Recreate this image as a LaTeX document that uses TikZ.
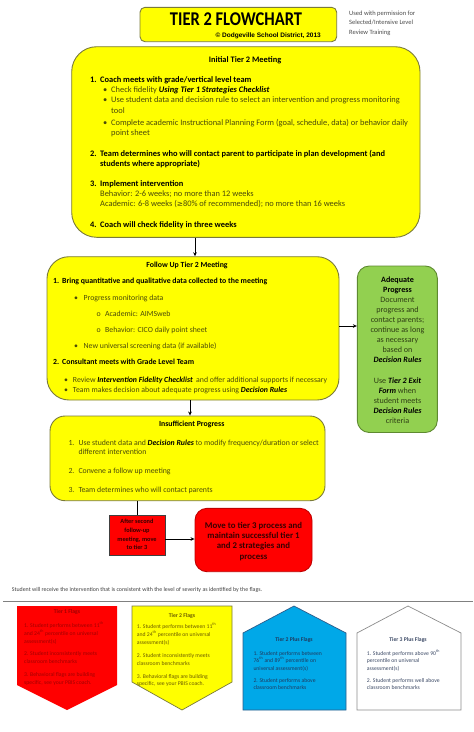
\documentclass[tikz,border=0pt]{standalone}
\usepackage{fontspec}
\setmainfont{Carlito}
\newfontfamily\arialf{Liberation Sans}
\newfontfamily\dejavu{DejaVu Sans}
\usetikzlibrary{arrows.meta}
\definecolor{ylw}{HTML}{FFFF00}
\definecolor{ylwborder}{HTML}{7A7A3A}
\definecolor{olivetxt}{HTML}{4A4A0A}
\definecolor{grn}{HTML}{92D050}
\definecolor{grnborder}{HTML}{5E8A30}
\definecolor{grntxt}{HTML}{2E3E14}
\definecolor{rd}{HTML}{FF0000}
\definecolor{rdborder}{HTML}{C00000}
\definecolor{rdtxt}{HTML}{380000}
\definecolor{blu}{HTML}{00A8E8}
\definecolor{bluborder}{HTML}{2E5C8A}
\definecolor{blutxt}{HTML}{1F3A5F}
\definecolor{whtborder}{HTML}{8C8C8C}
\definecolor{whttxt}{HTML}{3C4A66}
\definecolor{flagred}{HTML}{A00000}
\definecolor{flagylw}{HTML}{6B5B00}
\newcommand{\bk}[1]{\textbf{\color{black}#1}}
\newcommand{\tl}[4]{\node[txt] (#1) at (#2,#3) {#4};}
\newcommand{\tc}[4]{\node[txtc] (#1) at (#2,#3) {#4};}
\tikzset{
  txt/.style={anchor=base west, inner sep=0pt},
  txtc/.style={anchor=base, inner sep=0pt},
  ybox/.style={draw=ylwborder, fill=ylw, line width=0.9pt, inner sep=0pt},
  conn/.style={draw=black, line width=1pt},
  arr/.style={conn, -{Stealth[length=4pt,width=3.6pt]}},
}
\begin{document}
\begin{tikzpicture}[x=1pt,y=-1pt]
\fill[white] (0,0) rectangle (474,732);
\useasboundingbox (0,0) rectangle (474,732);

% ---------- title ----------
\node[ybox, rounded corners=5pt, minimum width=196.7pt, minimum height=34.4pt] (title) at (238.35,24.5) {};
\node[txtc, font=\fontsize{16.5}{18}\selectfont\bfseries] (titletxt) at (236,25.8) {\scalebox{1}[1.18]{TIER 2 FLOWCHART}};
\node[txt, anchor=base east, font=\arialf\fontsize{6.5}{7}\selectfont\bfseries] (copy) at (321,37) {© Dodgeville School District, 2013};
\begin{scope}[font=\fontsize{6.5}{7}\selectfont, text=black!70]
\tl{side1}{349}{15.5}{Used with permission for}
\tl{side2}{349}{24.5}{Selected/Intensive Level}
\tl{side3}{349}{34}{Review Training}
\end{scope}

% ---------- boxes ----------
\node[ybox, rounded corners=25pt, minimum width=348.3pt, minimum height=190.6pt] (init) at (245.85,142) {};
\node[ybox, rounded corners=22pt, minimum width=292pt, minimum height=143.3pt] (follow) at (193,328.35) {};
\node[ybox, rounded corners=15pt, minimum width=275pt, minimum height=84.7pt] (insuf) at (187.5,458.35) {};
\node[draw=grnborder, fill=grn, line width=0.9pt, rounded corners=12pt, minimum width=80pt, minimum height=166.5pt, inner sep=0pt] (adeq) at (397.3,349.25) {};
\node[draw=black!75, fill=rd, line width=0.8pt, minimum width=56pt, minimum height=40pt, inner sep=0pt] (after) at (137,535) {};
\node[draw=rdborder, fill=rd, line width=0.9pt, rounded corners=12pt, minimum width=117pt, minimum height=63.4pt, inner sep=0pt] (move) at (253.5,540) {};

% ---------- connectors ----------
\coordinate (ax1) at (195,0);
\coordinate (ax2) at (190,0);
\coordinate (ay3) at (0,326);
\coordinate (ax4) at (137,0);
\coordinate (ay5) at (0,539);
\draw[arr] (init.south -| ax1) -- (follow.north -| ax1);
\draw[arr] (follow.south -| ax2) -- (insuf.north -| ax2);
\draw[arr] (follow.east |- ay3) -- (adeq.west |- ay3);
\draw[conn] (insuf.south -| ax4) -- (after.north);
\draw[arr] (after.east |- ay5) -- (move.west |- ay5);

% ---------- initial meeting text ----------
\begin{scope}[font=\fontsize{8.4}{10}\selectfont, text=olivetxt]
\tc{i0}{245}{62}{\bk{Initial Tier 2 Meeting}}
\tl{i1n}{90}{82}{\bk{1.}} \tl{i1}{100}{82}{\bk{Coach meets with grade/vertical level team}}
\tl{i1a}{103}{92}{•} \tl{i1at}{111}{92}{Check fidelity \bk{\itshape Using Tier 1 Strategies Checklist}}
\tl{i1b}{103}{102}{•} \tl{i1bt}{111}{102}{Use student data and decision rule to select an intervention and progress monitoring}
\tl{i1bu}{111}{113}{tool}
\tl{i1c}{103}{125}{•} \tl{i1ct}{111}{125}{Complete academic Instructional Planning Form (goal, schedule, data) or behavior daily}
\tl{i1cu}{111}{135}{point sheet}
\tl{i2n}{90}{156}{\bk{2.}} \tl{i2}{100}{156}{\bk{Team determines who will contact parent to participate in plan development (and}}
\tl{i2u}{100}{166}{\bk{students where appropriate)}}
\tl{i3n}{90}{186}{\bk{3.}} \tl{i3}{100}{186}{\bk{Implement intervention}}
\tl{i3a}{100}{196}{Behavior: 2-6 weeks; no more than 12 weeks}
\tl{i3b}{100}{206}{Academic: 6-8 weeks ({\dejavu\fontsize{7.4}{8}\selectfont ≥}80\% of recommended); no more than 16 weeks}
\tl{i4n}{90}{227}{\bk{4.}} \tl{i4}{100}{227}{\bk{Coach will check fidelity in three weeks}}
\end{scope}

\begin{scope}[font=\fontsize{7.8}{9}\selectfont, text=olivetxt]
% ---------- follow up text ----------
\tc{f0}{187}{267}{\bk{Follow Up Tier 2 Meeting}}
\tl{f1n}{53}{283.5}{\bk{1.}} \tl{f1}{62}{283.5}{\bk{Bring quantitative and qualitative data collected to the meeting}}
\tl{f1a}{74}{300.5}{•} \tl{f1at}{83.5}{300.5}{Progress monitoring data}
\tl{f1b}{96.5}{316}{o} \tl{f1bt}{105}{316}{Academic: AIMSweb}
\tl{f1c}{96.5}{332}{o} \tl{f1ct}{105}{332}{Behavior: CICO daily point sheet}
\tl{f1d}{74}{348}{•} \tl{f1dt}{83.5}{348}{New universal screening data (if available)}
\tl{f2n}{53}{364.5}{\bk{2.}} \tl{f2}{62}{364.5}{\bk{Consultant meets with Grade Level Team}}
\tl{f2a}{64}{382}{•} \tl{f2at}{72.7}{382}{Review \bk{\itshape Intervention Fidelity Checklist}\ \ and offer additional supports if necessary}
\tl{f2b}{64}{392}{•} \tl{f2bt}{72.7}{392}{Team makes decision about adequate progress using \bk{\itshape Decision Rules}}

% ---------- insufficient text ----------
\tc{s0}{191.7}{426}{\bk{Insufficient Progress}}
\tl{s1n}{68.3}{445}{1.} \tl{s1}{78.3}{445}{Use student data and \bk{\itshape Decision Rules} to modify frequency/duration or select}
\tl{s1u}{78.3}{454.5}{different intervention}
\tl{s2n}{68.3}{473.5}{2.} \tl{s2}{78.3}{473.5}{Convene a follow up meeting}
\tl{s3n}{68.3}{492}{3.} \tl{s3}{78.3}{492}{Team determines who will contact parents}
\end{scope}

% ---------- adequate progress text ----------
\begin{scope}[font=\fontsize{8.1}{9}\selectfont, text=grntxt]
\tc{g0}{397.5}{282}{\bk{Adequate}}
\tc{g1}{397.5}{292.1}{\bk{Progress}}
\tc{g2}{397.5}{302.2}{Document}
\tc{g3}{397.5}{312.3}{progress and}
\tc{g4}{397.5}{322.4}{contact parents;}
\tc{g5}{397.5}{332.5}{continue as long}
\tc{g6}{397.5}{342.6}{as necessary}
\tc{g7}{397.5}{352.7}{based on}
\tc{g8}{397.5}{362.8}{\bk{\itshape Decision Rules}}
\tc{g10}{397.5}{383}{Use \bk{\itshape Tier 2 Exit}}
\tc{g11}{397.5}{393.1}{\bk{\itshape Form} when}
\tc{g12}{397.5}{403.2}{student meets}
\tc{g13}{397.5}{413.3}{\bk{\itshape Decision Rules}}
\tc{g14}{397.5}{423.4}{criteria}
\end{scope}

% ---------- red boxes text ----------
\begin{scope}[font=\fontsize{6.3}{7}\selectfont\bfseries, text=rdtxt]
\tc{a1}{137}{523.5}{After second}
\tc{a2}{137}{532.2}{follow-up}
\tc{a3}{137}{541}{meeting, move}
\tc{a4}{137}{549.7}{to tier 3}
\end{scope}
\begin{scope}[font=\fontsize{8.8}{10}\selectfont\bfseries, text=rdtxt]
\tc{m1}{253.5}{528.3}{Move to tier 3 process and}
\tc{m2}{253.5}{538.5}{maintain successful tier 1}
\tc{m3}{253.5}{548.9}{and 2 strategies and}
\tc{m4}{253.5}{559.1}{process}
\end{scope}

% ---------- bottom note and rule ----------
\node[txt, font=\fontsize{5.9}{7}\selectfont, text=black!75] (note) at (11.7,591.5) {Student will receive the intervention that is consistent with the level of severity as identified by the flags.};
\coordinate (rl) at (3,601);
\coordinate (rr) at (473,601);
\draw[draw=black!50, line width=0.8pt] (rl) -- (rr);

% ---------- flags ----------
\fill[rd] (17,606) -- (117,606) -- (117,685) -- (67,710) -- (17,685) -- cycle;
\filldraw[fill=ylw, draw=ylwborder, line width=0.7pt] (132,606) -- (232,606) -- (232,682) -- (182,710) -- (132,682) -- cycle;
\filldraw[fill=blu, draw=bluborder, line width=0.7pt] (243,633) -- (294,606) -- (346,633) -- (346,710) -- (243,710) -- cycle;
\filldraw[fill=white, draw=whtborder, line width=0.7pt] (357,633) -- (408,606) -- (461,633) -- (461,710) -- (357,710) -- cycle;

\begin{scope}[font=\fontsize{5.7}{6}\selectfont, text=flagred]
\tc{r0}{67}{613}{\textbf{Tier 1 Flags}}
\tl{r1}{24}{627}{1. Student performs between 11\textsuperscript{th}}
\tl{r2}{24}{635}{and 24\textsuperscript{th} percentile on universal}
\tl{r3}{24}{643}{assessment(s)}
\tl{r4}{24}{655.5}{2. Student inconsistently meets}
\tl{r5}{24}{663.5}{classroom benchmarks}
\tl{r6}{24}{676}{3. Behavioral flags are building}
\tl{r7}{24}{684}{specific, see your PBIS coach.}
\end{scope}
\begin{scope}[font=\fontsize{5.7}{6}\selectfont, text=flagylw]
\tc{y0}{182}{617}{\textbf{Tier 2 Flags}}
\tl{y1}{136.7}{628}{1. Student performs between 11\textsuperscript{th}}
\tl{y2}{136.7}{636.5}{and 24\textsuperscript{th} percentile on universal}
\tl{y3}{136.7}{644.5}{assessment(s)}
\tl{y4}{136.7}{657}{2. Student inconsistently meets}
\tl{y5}{136.7}{665}{classroom benchmarks}
\tl{y6}{136.7}{678}{3. Behavioral flags are building}
\tl{y7}{136.7}{685.5}{specific, see your PBIS coach.}
\end{scope}
\begin{scope}[font=\fontsize{5.7}{6}\selectfont, text=blutxt]
\tc{b0}{294}{641.5}{\textbf{Tier 2 Plus Flags}}
\tl{b1}{253.3}{655}{1. Student performs between}
\tl{b2}{253.3}{662.5}{76\textsuperscript{th} and 89\textsuperscript{th} percentile on}
\tl{b3}{253.3}{670}{universal assessment(s)}
\tl{b4}{253.3}{682}{2. Student performs above}
\tl{b5}{253.3}{689.5}{classroom benchmarks}
\end{scope}
\begin{scope}[font=\fontsize{5.7}{6}\selectfont, text=whttxt]
\tc{w0}{408}{641.5}{\textbf{Tier 3 Plus Flags}}
\tl{w1}{366.7}{655}{1. Student performs above 90\textsuperscript{th}}
\tl{w2}{366.7}{662.5}{percentile on universal}
\tl{w3}{366.7}{670}{assessment(s)}
\tl{w4}{366.7}{682}{2. Student performs well above}
\tl{w5}{366.7}{689.5}{classroom benchmarks}
\end{scope}
\end{tikzpicture}
\end{document}
